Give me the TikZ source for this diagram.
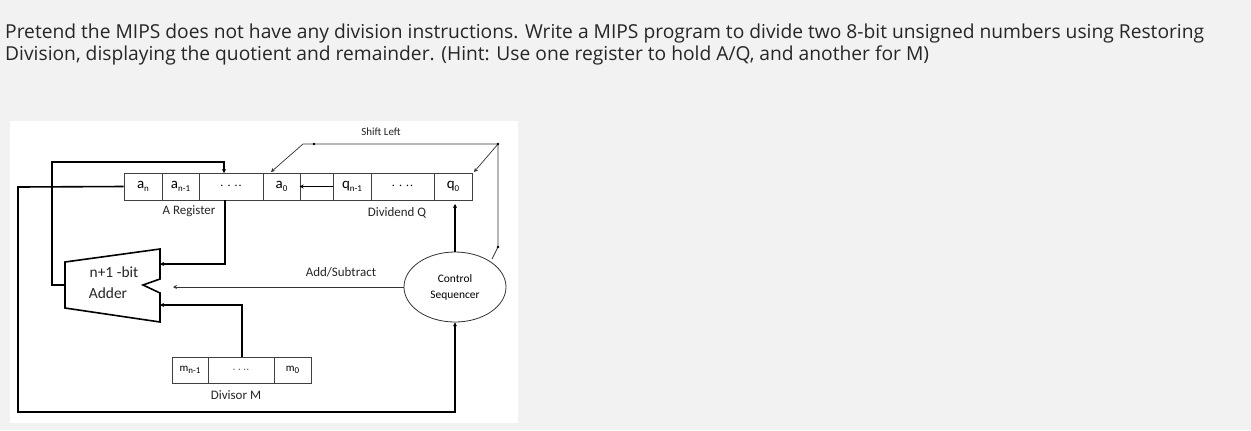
\documentclass[tikz,border=0pt]{standalone}
\usepackage{fontspec}
\setmainfont{Carlito}
\newfontfamily\opensans{Open Sans}
\usetikzlibrary{arrows.meta,shapes.geometric}
\newcommand\mysub[1]{\raisebox{-0.4ex}{\fontsize{9}{10}\selectfont #1}}
\begin{document}
\begin{tikzpicture}[x=1bp,y=-1bp,
  thick line/.style={line width=1.6bp,black},
  thin line/.style={line width=0.7bp,black!80},
  cellbox/.style={draw=black!75,line width=0.7bp},
  lbl/.style={inner sep=0pt,font=\fontsize{13}{15}\selectfont,text=black!85},
  tip/.style={-{Stealth[length=4bp,width=4bp]}}]
\fill[black!5] (0,0) rectangle (1251,430);
\useasboundingbox (0,0) rectangle (1251,430);
\fill[white] (10,121) rectangle (518,423);
\node[anchor=north west,align=left,inner sep=0pt,text=black!85,font=\opensans\fontsize{19.3}{21.5}\selectfont] (title) at (5,24)
{Pretend the MIPS does not have any division instructions. Write a MIPS program to divide two 8-bit unsigned numbers using Restoring\\
Division, displaying the quotient and remainder. (Hint: Use one register to hold A/Q, and another for M)};
% register cells
\foreach \a/\b/\t [count=\i] in {124/162/{a\mysub{n}},162/199/{a\mysub{n-1}},199/263/{$\cdot\cdot\cdot\cdot$},263/300/{a\mysub{0}},300/333/{},333/371/{q\mysub{n-1}},371/434/{$\cdot\cdot\cdot\cdot$},434/472/{q\mysub{0}}}
  \node[cellbox,minimum height=27bp,minimum width={(\b-\a)*1bp},inner sep=0pt,font=\fontsize{15}{16}\selectfont] (r\i) at ({(\a+\b)/2},186.5) {\t};
\foreach \a/\b/\t [count=\i] in {172/208/{m\mysub{n-1}},208/274/{$\cdot\cdot\cdot\cdot$},274/311/{m\mysub{0}}}
  \node[cellbox,minimum height=26bp,minimum width={(\b-\a)*1bp},inner sep=0pt,font=\fontsize{11}{12}\selectfont] (m\i) at ({(\a+\b)/2},370) {\t};
\node[lbl] (areg) at (189,211) {A Register};
\node[lbl] (divq) at (397,213) {Dividend Q};
\node[lbl] (divm) at (236,395) {Divisor M};
\node[lbl,font=\fontsize{11}{12}\selectfont] (shl) at (381,132) {Shift Left};
\node[lbl] (addsub) at (341,272) {Add/Subtract};
% adder
\draw[thick line,line join=miter] (65,262) -- (160,249) -- (160,279) -- (143,285) -- (160,293) -- (160,322) -- (65,308) -- cycle;
\coordinate (addl) at (65,285);
\node[lbl,font=\fontsize{15.5}{17}\selectfont] (adt1) at (114,272) {n+1 -bit};
\node[lbl,font=\fontsize{15.5}{17}\selectfont] (adt2) at (108,293) {Adder};
% control
\node[draw=black!80,line width=0.8bp,ellipse,minimum width=102bp,minimum height=70bp,inner sep=0pt,align=center,font=\fontsize{11.5}{16}\selectfont] (ctl) at (455,287) {Control\\Sequencer};
% thick connections
\draw[thick line,tip] (r1.west) -- (18,187) -- (18,412) -- (455,412) -- (ctl.south);
\draw[thick line,tip] (addl) -- (52,285) -- (52,162) -- (224,162) -- (224,173);
\draw[thick line,tip] (225,200) -- (225,264) -- (160,264);
\draw[thick line,tip] (242,357) -- (242,305) -- (160,305);
\draw[thick line,tip] (ctl.north) -- (455,204);
\draw[thick line,tip] (r6.west) -- (r5.west);
% thin
\draw[thin line,tip] (ctl.west) -- (173,287);
\draw[thin line,tip] (498,144) -- (303,144) -- (271,172);
\draw[thin line,tip] (498,144) -- (474,172);
\draw[thin line] (498,144) -- (498,247) -- (492,259);
\fill (314,144) circle (1.3bp) (498,144) circle (1.3bp) (498,247) circle (1.3bp);
\end{tikzpicture}
\end{document}
